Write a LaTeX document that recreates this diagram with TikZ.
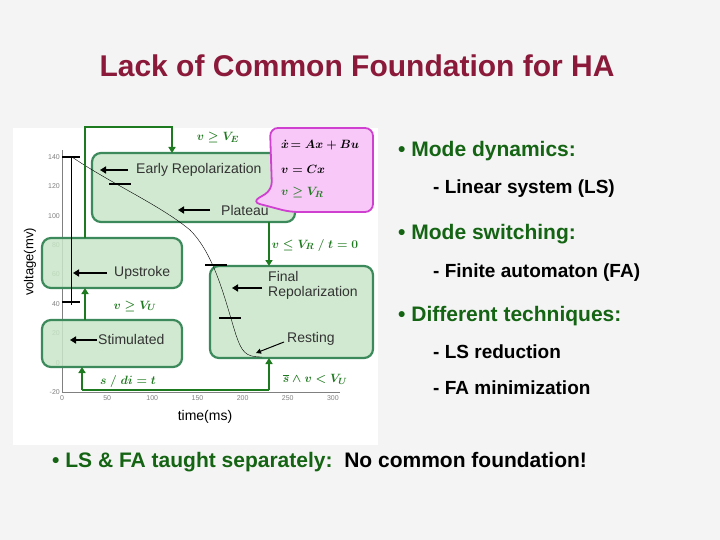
\documentclass[tikz,border=0pt]{standalone}
\usepackage{fontspec}
\setmainfont{Liberation Sans}
\usepackage{amsmath}
\usetikzlibrary{arrows.meta}
\definecolor{bg}{HTML}{F4F4F4}
\definecolor{boxfill}{HTML}{C8E6C8}
\definecolor{boxdraw}{HTML}{3C8A5C}
\definecolor{garrow}{HTML}{1E7A1E}
\definecolor{gtext}{HTML}{146414}
\definecolor{title}{HTML}{8B1A3A}
\definecolor{callout}{HTML}{F8C8F8}
\definecolor{calldraw}{HTML}{D040D0}
\begin{document}
\begin{tikzpicture}[x=1pt,y=-1pt,
  state/.style={draw=boxdraw,line width=2.2pt,fill=boxfill,fill opacity=0.85,rounded corners=9pt},
  trans/.style={garrow,line width=2.5pt,-{Triangle[length=6pt,width=7pt]}},
  blk/.style={line width=2.5pt,-{Triangle[length=6pt,width=7pt]}},
  bar/.style={line width=1.6pt},
  lbl/.style={font=\fontsize{14}{15}\selectfont,anchor=west,inner sep=0pt,text=black!80},
  mlbl/.style={font=\fontsize{13}{14}\selectfont\boldmath,text=garrow,inner sep=0pt},
  tick/.style={font=\fontsize{7}{7}\selectfont,text=gray,inner sep=0pt},
  bul/.style={font=\fontsize{21}{23}\selectfont\bfseries,text=gtext,anchor=west,inner sep=0pt},
  sub/.style={font=\fontsize{19}{21}\selectfont\bfseries,anchor=west,inner sep=0pt}]
\useasboundingbox (0,0) rectangle (720,540);
\fill[bg] (0,0) rectangle (720,540);
\fill[white] (13,128) rectangle (378,445);
\node[font=\fontsize{30}{32}\selectfont\bfseries,text=title,inner sep=0pt] (t) at (357,66) {Lack of Common Foundation for HA};
% axes
\draw[gray,line width=0.5pt] (62,150) -- (62,392) -- (340,392);
\foreach \v in {-20,0,20,40,60,80,100,120,140}{
  \node[tick,anchor=east] (yt\v) at (60,{392-(\v+20)*1.469}) {\v};}
\foreach \t in {0,50,100,150,200,250,300}{
  \node[tick,anchor=north] (xt\t) at ({62+\t*0.903},395) {\t};}
\node[font=\fontsize{13}{13}\selectfont,rotate=90,inner sep=0pt] (yl) at (30,262) {voltage(mv)};
\node[font=\fontsize{14}{14}\selectfont,inner sep=0pt] (xl) at (205,417) {time(ms)};
% boxes
\draw[state] (92,153) rectangle (295,222);
\draw[state] (42,238) rectangle (182,288);
\draw[state] (42,320) rectangle (182,367);
\draw[state] (210,266) rectangle (373,358);
% callout
\draw[calldraw,line width=1.8pt,fill=callout,rounded corners=8pt] (270,128) -- (373,128) -- (373,212) -- (290,212) -- (252,202) -- (272,190) -- cycle;
\node[font=\fontsize{13}{14}\selectfont\boldmath,inner sep=0pt,anchor=west] (c1) at (281,145) {$\dot x\! = Ax + Bu$};
\node[font=\fontsize{13}{14}\selectfont\boldmath,inner sep=0pt,anchor=west] (c2) at (281,169) {$v = Cx$};
\node[mlbl,anchor=west] (c3) at (281,193) {$v \geq V_R$};
% curve and bars
\draw[line width=0.4pt] (72,157) .. controls (110,183) and (160,205) .. (190,230) .. controls (215,255) and (225,300) .. (236,335) .. controls (242,352) and (245,357) .. (262,357);
\draw[line width=0.6pt] (71,157) -- (71,305);
\draw[bar] (62,157) -- (80,157);
\draw[bar] (109,184) -- (131,184);
\draw[bar] (205,265) -- (227,265);
\draw[bar] (219,318) -- (241,318);
\draw[bar] (62,302) -- (80,302);
% labels
\node[lbl] (er) at (136,170) {Early Repolarization};
\node[lbl] (pl) at (221,210) {Plateau};
\node[lbl] (up) at (114,273) {Upstroke};
\node[lbl] (st) at (98,339) {Stimulated};
\node[lbl,align=left] (fr) at (268,285) {Final\\Repolarization};
\node[lbl] (rs) at (287,339) {Resting};
% black arrows
\coordinate (a1) at (100,170); \draw[blk] (128,170) -- (a1);
\coordinate (a2) at (178,210); \draw[blk] (210,210) -- (a2);
\coordinate (a3) at (73,273); \draw[blk] (107,273) -- (a3);
\coordinate (a4) at (70,340); \draw[blk] (97,340) -- (a4);
\coordinate (a5) at (232,288); \draw[blk] (262,288) -- (a5);
\coordinate (a6) at (256,353); \draw[line width=1pt,-{Triangle[length=5pt,width=5pt]}] (284,342) -- (a6);
% green transitions
\draw[trans] (85,238) -- (85,127) -- (172,127) -- (172,153);
\draw[trans] (269,222) -- (269,266);
\draw[trans] (85,320) -- (85,288);
\draw[garrow,line width=2.5pt] (82,390) -- (269,390);
\draw[trans] (82,390) -- (82,367);
\draw[trans] (269,390) -- (269,358);
\node[mlbl] (l1) at (218,138) {$v \geq V_E$};
\node[mlbl] (l2) at (315,245) {$v \leq V_R\ /\ t = 0$};
\node[mlbl] (l3) at (135,306) {$v \geq V_U$};
\node[mlbl] (l4) at (128,381) {$s\ /\ di = t$};
\node[mlbl] (l5) at (315,379) {$\overline{s} \wedge v < V_U$};
% right text
\node[bul] (b1) at (398,151) {• Mode dynamics:};
\node[sub] (s1) at (433,189) {- Linear system (LS)};
\node[bul] (b2) at (398,234) {• Mode switching:};
\node[sub] (s2) at (433,273) {- Finite automaton (FA)};
\node[bul] (b3) at (398,316) {• Different techniques:};
\node[sub] (s3) at (433,352) {- LS reduction};
\node[sub] (s4) at (433,388) {- FA minimization};
\node[bul] (b4) at (52,462) {• LS \& FA taught separately:\ \ \textcolor{black}{No common foundation!}};
\end{tikzpicture}
\end{document}
